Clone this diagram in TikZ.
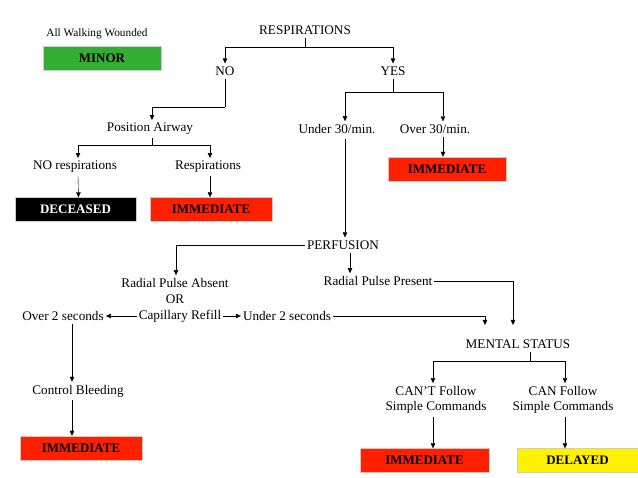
\documentclass[tikz,border=0pt]{standalone}
\usepackage{fontspec}
\setmainfont{Liberation Serif}
\usetikzlibrary{positioning, arrows.meta}
\begin{document}
\begin{tikzpicture}[x=1pt, y=-1pt, font=\fontsize{13.2}{15.5}\selectfont,
    every label/.style={inner xsep=2pt, inner ysep=3pt, align=center},
    every box/.style={draw=black!20, minimum width=120pt, minimum height=24pt, font=\fontsize{13}{15}\selectfont\bfseries},
    arr/.style={-{Triangle[length=5pt, width=4.5pt]}, thin}]

    \useasboundingbox (0,0) rectangle (638,478);

    % Tag boxes
    \node[every box, fill=green!60!black!80, minimum width=118pt] (minor) at (102,58.5) {MINOR};
    \node[every box, fill=black, text=white, minimum width=121pt] (dec) at (75.5,209.5) {DECEASED};
    \node[every box, fill=red!75!orange, minimum width=122pt] (imm1) at (211,209.5) {IMMEDIATE};
    \node[every box, fill=red!75!orange, minimum width=118pt] (imm2) at (447,169) {IMMEDIATE};
    \node[every box, fill=red!75!orange, minimum width=122pt] (imm3) at (81,448) {IMMEDIATE};
    \node[every box, fill=red!75!orange, minimum width=129pt] (imm4) at (424.5,460.5) {IMMEDIATE};
    \node[every box, fill=yellow, minimum width=121pt] (del) at (577.5,460.5) {DELAYED};

    % Labels
    \node[every label, font=\fontsize{11.3}{13}\selectfont] (walk) at (97,34) {All Walking Wounded};
    \node[every label] (resp) at (305,30) {RESPIRATIONS};
    \node[every label] (no) at (225,71) {NO};
    \node[every label] (yes) at (393,71) {YES};
    \node[every label] (airway) at (150,129) {Position Airway};
    \node[every label] (under30) at (337,129) {Under 30/min.};
    \node[every label] (over30) at (435,129) {Over 30/min.};
    \node[every label] (norsp) at (75,167) {NO respirations};
    \node[every label] (rsp) at (208,167) {Respirations};
    \node[every label] (perf) at (343,245) {PERFUSION};
    \node[every label] (absent) at (175,283) {Radial Pulse Absent};
    \node[every label] (or) at (175,299) {OR};
    \node[every label] (cap) at (180,316) {Capillary Refill};
    \node[every label] (over2) at (63,316) {Over 2 seconds};
    \node[every label] (under2) at (287,316) {Under 2 seconds};
    \node[every label] (present) at (378,281) {Radial Pulse Present};
    \node[every label] (mental) at (518,344) {MENTAL STATUS};
    \node[every label] (bleed) at (78,391) {Control Bleeding};
    \node[every label] (cant) at (436,400) {CAN'T Follow\\Simple Commands};
    \node[every label] (can) at (563,400) {CAN Follow\\Simple Commands};

    % Branch points
    \coordinate (r1) at (305,47);
    \coordinate (n1) at (225,107);
    \coordinate (y1) at (393,92);
    \coordinate (a1) at (152,145);
    \coordinate (m1) at (530,361);
    \coordinate (ms1) at (485,325);
    \coordinate (ms2) at (513,325);

    % Respirations branch
    \draw (resp.south) -- (r1);
    \draw[arr] (r1) -| (no.north);
    \draw[arr] (r1) -| (yes.north);
    \draw (no.south) -- (n1);
    \draw[arr] (n1) -| (a1 |- airway.north);
    \draw (yes.south) -- (y1);
    \draw[arr] (y1) -| ([xshift=8pt]under30.north);
    \draw[arr] (y1) -| ([xshift=8pt]over30.north);
    \draw[arr] ([xshift=8pt]over30.south) -- ([xshift=8pt]over30.south |- imm2.north);
    \draw (a1 |- airway.south) -- (a1);
    \draw[arr] (a1) -| ([xshift=3pt]norsp.north);
    \draw[arr] (a1) -| ([xshift=2pt]rsp.north);
    \draw[arr] ([xshift=3pt]norsp.south) -- ([xshift=3pt]dec.north);
    \draw[arr] ([xshift=2pt]rsp.south) -- ([xshift=2pt]rsp.south |- imm1.north);

    % Perfusion branch
    \draw[arr] ([xshift=8pt,yshift=-2pt]under30.south) -- ([xshift=8pt]under30.south |- perf.north);
    \draw[arr] (perf.west) -| ([xshift=1pt]absent.north);
    \draw[arr] ([xshift=7pt]perf.south) -- ([xshift=7pt]perf.south |- present.north);
    \draw[arr] (cap.west) -- (over2.east);
    \draw[arr] (cap.east) -- (under2.west);
    \draw[arr] (under2.east) -| (ms1);
    \draw[arr] (present.east) -| (ms2);
    \draw[arr] ([xshift=9pt]over2.south) -- ([xshift=9pt]over2.south |- bleed.north);
    \draw[arr] ([xshift=-6pt]bleed.south) -- ([xshift=-6pt]bleed.south |- imm3.north);

    % Mental status branch
    \draw (m1 |- mental.south) -- (m1);
    \draw[arr] (m1) -| ([xshift=-3pt]cant.north);
    \draw[arr] (m1) -| ([xshift=2pt]can.north);
    \draw[arr] ([xshift=-3pt]cant.south) -- ([xshift=-3pt]cant.south |- imm4.north);
    \draw[arr] ([xshift=2pt]can.south) -- ([xshift=2pt]can.south |- del.north);

\end{tikzpicture}
\end{document}
